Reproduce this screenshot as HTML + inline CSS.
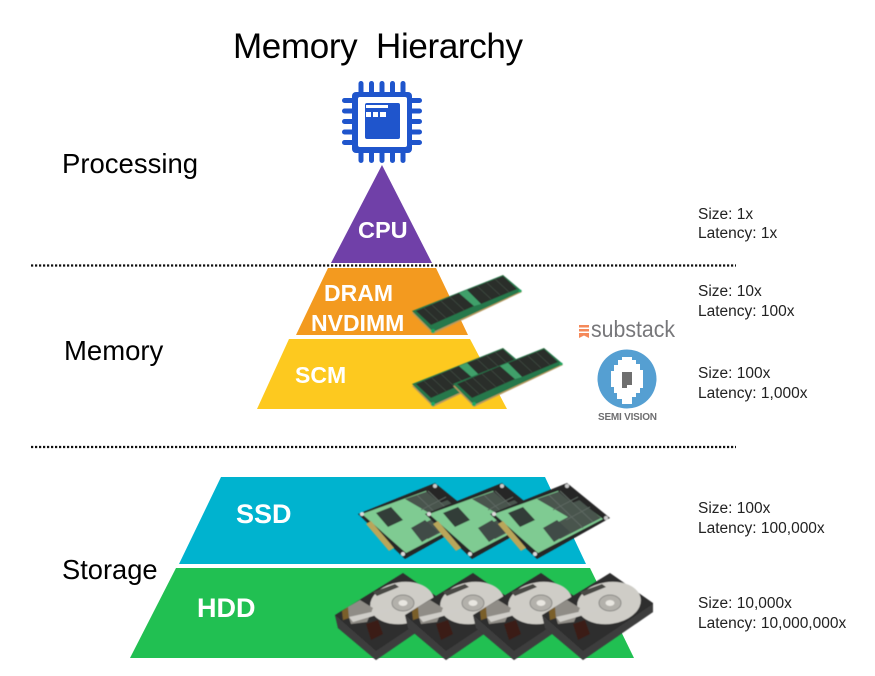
<!DOCTYPE html>
<html>
<head>
<meta charset="utf-8">
<style>
html,body{margin:0;padding:0;background:#fff}
svg{display:block}
text{font-family:"Liberation Sans",Arial,sans-serif}
</style>
</head>
<body>
<svg width="875" height="676" viewBox="0 0 875 676" xmlns="http://www.w3.org/2000/svg">
<defs>
<filter id="soft" x="-5%" y="-5%" width="110%" height="110%"><feGaussianBlur stdDeviation="0.55"/></filter>
<g id="ram">
  <polygon points="412,313 503,275 522,292 433,334" fill="#b99a60"/>
  <polygon points="412,311 503,275 522,291 433,332" fill="#26784c"/>
  <polygon points="416,311 459,293 474,306 431,325" fill="#2a2f2b"/>
  <polygon points="467,290 503,276 517,289 481,304" fill="#2a2f2b"/>
  <polygon points="459,293 467,290 481,304 474,306" fill="#3fa06a"/>
  <g stroke="#3c443e" stroke-width=".9">
    <line x1="424" y1="308" x2="438" y2="321"/><line x1="432" y1="305" x2="446" y2="318"/>
    <line x1="441" y1="301" x2="455" y2="314"/><line x1="450" y1="297" x2="464" y2="310"/>
    <line x1="477" y1="286" x2="491" y2="299"/><line x1="486" y1="282" x2="500" y2="295"/>
    <line x1="495" y1="279" x2="509" y2="292"/>
  </g>
  <circle cx="433" cy="331" r="2" fill="#1fa864"/>
  <circle cx="520" cy="291" r="1.500" fill="#1fa864"/>
</g>
<g id="ssd">
  <polygon points="490,514 567,483 610,518 537,559" fill="#262626"/>
  <polygon points="494,514 563,489 603,519 538,553" fill="#7fcb92"/>
  <polygon points="537,499 566,489 601,518 560,539 547,528 568,517" fill="#49544e"/>
  <polygon points="543,528 557,520 570,532 554,542" fill="#414c46"/>
  <polygon points="508,513 523,507 535,520 520,527" fill="#333d37"/>
  <polygon points="567,486 585,498 572,503 558,491" fill="#262626"/>
  <polygon points="498,524 503,521 526,548 521,551" fill="#b9a65a"/>
  <g stroke="#5f6a63" stroke-width=".9">
    <line x1="549" y1="495" x2="583" y2="528"/><line x1="560" y1="491" x2="593" y2="522"/>
    <line x1="553" y1="510" x2="578" y2="497"/><line x1="566" y1="520" x2="590" y2="507"/>
  </g>
  <circle cx="494" cy="514" r="2" fill="#ddd"/>
  <circle cx="535" cy="554" r="2" fill="#ddd"/>
  <circle cx="567" cy="486" r="2" fill="#ccc"/>
  <circle cx="606" cy="518" r="2" fill="#ccc"/>
</g>
<g id="hdd">
  <polygon points="542,615 610,573 653,603 653,612 583,660 545,628" fill="#2e2e2e"/>
  <polygon points="542,615 583,651 653,604 653,612 583,660 545,628" fill="#3d3d3d"/>
  <ellipse cx="609" cy="603" rx="32" ry="21" transform="rotate(-8 609 603)" fill="#cfcdc7"/>
  <ellipse cx="610" cy="603" rx="11" ry="8" fill="#b3b1ab" stroke="#8b8a86"/>
  <ellipse cx="610" cy="603" rx="4.500" ry="3" fill="#e8e6e0"/>
  <polygon points="553,608 567,600 580,608 574,622 558,624" fill="#8f8c86"/>
  <polygon points="556,617 596,608 597,611 560,622" fill="#cfcdc8"/>
  <polygon points="573,624 585,620 590,634 578,640" fill="#3a1f18"/>
  <polygon points="549,611 555,607 556,618 550,620" fill="#7a5f2a"/>
  <polygon points="580,592 602,584 606,587 584,596" fill="#4a4845"/>
</g>
</defs>

<rect width="875" height="676" fill="#fff"/>

<text x="233" y="58" font-size="35" textLength="290" lengthAdjust="spacing" fill="#000" xml:space="preserve">Memory  Hierarchy</text>

<!-- chip -->
<g fill="#1f55cc">
  <rect x="358.500" y="81" width="5" height="82" rx="2.500"/>
  <rect x="369" y="81" width="5" height="82" rx="2.500"/>
  <rect x="379.500" y="81" width="5" height="82" rx="2.500"/>
  <rect x="390" y="81" width="5" height="82" rx="2.500"/>
  <rect x="400.500" y="81" width="5" height="82" rx="2.500"/>
  <rect x="342" y="98" width="80" height="5" rx="2.500"/>
  <rect x="342" y="108.500" width="80" height="5" rx="2.500"/>
  <rect x="342" y="119" width="80" height="5" rx="2.500"/>
  <rect x="342" y="129.500" width="80" height="5" rx="2.500"/>
  <rect x="342" y="140" width="80" height="5" rx="2.500"/>
  <rect x="352" y="92" width="60" height="61" rx="4"/>
</g>
<rect x="358" y="97" width="49" height="50" rx="2" fill="#fff"/>
<rect x="365" y="103" width="35" height="36" rx="2" fill="#1f55cc"/>
<rect x="366" y="105" width="22" height="3" fill="#fff"/>
<rect x="366" y="112" width="5" height="5" fill="#fff"/>
<rect x="373" y="112" width="5" height="5" fill="#fff"/>
<rect x="380" y="112" width="6" height="5" fill="#fff"/>

<!-- pyramids -->
<polygon points="382,165 432,263 331,263" fill="#7040a8"/>
<polygon points="328,268 436,268 468,335 296,335" fill="#f39a1f"/>
<polygon points="289,339 470,339 507,409 257,409" fill="#fdc91f"/>
<polygon points="221,477 545,477 586,564 179,564" fill="#00b3cf"/>
<polygon points="176,568 590,568 634,658 130,658" fill="#21c052"/>

<!-- dotted lines -->
<line x1="31" y1="265.500" x2="736" y2="265.500" stroke="#111" stroke-width="2.200" stroke-dasharray="2.200 1.800"/>
<line x1="31" y1="447" x2="736" y2="447" stroke="#111" stroke-width="2.200" stroke-dasharray="2.200 1.800"/>

<!-- side labels -->
<text x="62" y="173" font-size="27.500" fill="#000">Processing</text>
<text x="64" y="360" font-size="27.500" fill="#000">Memory</text>
<text x="62" y="579" font-size="27.300" fill="#000">Storage</text>

<!-- pyramid labels -->
<g fill="#fff" font-weight="700">
  <text x="358" y="238" font-size="23.500">CPU</text>
  <text x="324" y="301" font-size="23">DRAM</text>
  <text x="311" y="331" font-size="23">NVDIMM</text>
  <text x="295" y="383" font-size="23">SCM</text>
  <text x="236" y="523" font-size="27">SSD</text>
  <text x="197" y="617" font-size="27">HDD</text>
</g>

<!-- hardware -->
<g filter="url(#soft)">
<use href="#ram"/>
<use href="#ram" y="73"/>
<use href="#ram" x="41" y="73"/>

<use href="#ssd" x="-132"/>
<use href="#ssd" x="-65"/>
<use href="#ssd"/>

<use href="#hdd" x="-207"/>
<use href="#hdd" x="-137"/>
<use href="#hdd" x="-69"/>
<use href="#hdd"/>
</g>

<!-- right labels -->
<g font-size="15.500" fill="#222">
  <text x="698" y="219">Size: 1x</text>
  <text x="698" y="238">Latency: 1x</text>
  <text x="698" y="296">Size: 10x</text>
  <text x="698" y="316">Latency: 100x</text>
  <text x="698" y="378">Size: 100x</text>
  <text x="698" y="398">Latency: 1,000x</text>
  <text x="698" y="513">Size: 100x</text>
  <text x="698" y="533">Latency: 100,000x</text>
  <text x="698" y="608">Size: 10,000x</text>
  <text x="698" y="628">Latency: 10,000,000x</text>
</g>

<!-- substack logo -->
<g fill="#f5895a">
  <rect x="579" y="325" width="10" height="2.500"/>
  <rect x="579" y="329" width="10" height="2.500"/>
  <polygon points="579,333 589,333 589,338 584,335.500 579,338"/>
</g>
<text x="591" y="337" font-size="23" fill="#77777a" textLength="84" lengthAdjust="spacingAndGlyphs">substack</text>

<!-- semi vision logo -->
<circle cx="627" cy="379" r="29.500" fill="#559fd2"/>
<polygon points="622,357 632,357 632,360 636,360 636,364 640,364 640,370 643,370 643,388 640,388 640,393 636,393 636,397 632,397 632,404 622,404 622,399 617,399 617,393 614,393 614,387 611,387 611,371 614,371 614,365 618,365 618,360 622,360" fill="#fff"/>
<polygon points="622,372 632,372 632,385 627,385 627,388 622,388" fill="#6f6f6f"/>
<text x="598" y="420" font-size="10" font-weight="700" fill="#6e6e70" textLength="59">SEMI VISION</text>
</svg>
</body>
</html>
